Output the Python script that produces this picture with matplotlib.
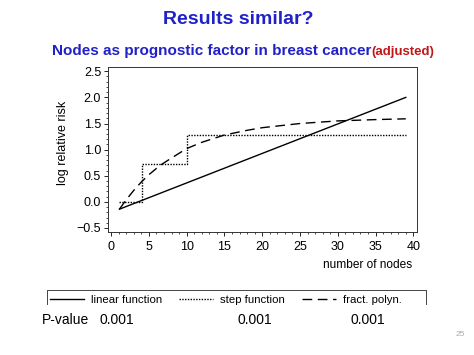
import numpy as np
import matplotlib.pyplot as plt
from matplotlib.lines import Line2D

plt.rcParams['font.family'] = ['Liberation Sans', 'DejaVu Sans']

# values
lin_x = [1.1, 39]
lin_y = [-0.14, 2.0]
step_x = [1.1, 4.1, 4.1, 10.1, 10.1, 39]
step_y = [0.0, 0.0, 0.72, 0.72, 1.28, 1.28]
fp_x = [1.1, 2, 3, 4, 5, 6.5, 8, 10, 12, 15, 18, 20, 25, 30, 35, 39]
fp_y = [-0.14, 0.04, 0.22, 0.38, 0.52, 0.70, 0.84, 1.02, 1.14, 1.28, 1.37, 1.42, 1.50, 1.55, 1.575, 1.59]
labels = ['linear function', 'step function', 'fract. polyn.']
pvalues = ['0.001', '0.001', '0.001']

W, H = 474, 355
fig = plt.figure(figsize=(4.74, 3.55), dpi=100)
ax = fig.add_axes([0.228, 0.346, 0.652, 0.465])

l1, = ax.plot(lin_x, lin_y, color='black', lw=1.0)
l2, = ax.plot(step_x, step_y, color='black', lw=1.0, ls=(0, (1, 1)))
l3, = ax.plot(fp_x, fp_y, color='black', lw=1.0, ls=(0, (7, 4)))

ax.set_xlim(-0.4, 40.5)
ax.set_ylim(-0.58, 2.58)
ax.set_xticks(np.arange(0, 41, 5))
ax.set_xticks(np.arange(0, 41, 1), minor=True)
ax.set_yticks([-0.5, 0.0, 0.5, 1.0, 1.5, 2.0, 2.5])
ax.set_yticklabels(['\u22120.5', '0.0', '0.5', '1.0', '1.5', '2.0', '2.5'])
ax.set_yticks(np.arange(-0.5, 2.51, 0.1), minor=True)
ax.tick_params(labelsize=9, length=3, width=0.6)
ax.tick_params(axis='y', pad=2)
ax.tick_params(which='minor', length=1.5, width=0.5)
for s in ax.spines.values():
    s.set_linewidth(0.7)
    s.set_color('#333333')

ax.set_ylabel('log relative risk', fontsize=9)
ax.yaxis.set_label_coords(-0.125, 0.54)
ax.set_xlabel('number of nodes', fontsize=8.6)
ax.xaxis.set_label_coords((412 - 108) / (417 - 108), -(265 - 232) / (232 - 67))
ax.xaxis.label.set_ha('right')
ax.xaxis.label.set_va('center')

# titles
fig.text(238 / W, 1 - 20 / H, 'Results similar?', ha='center', va='center',
         fontsize=14, fontweight='bold', color='#2121c8')
t1 = fig.text(52 / W, 1 - 55 / H, 'Nodes as prognostic factor in breast cancer',
              ha='left', va='baseline', fontsize=11, fontweight='bold', color='#2121c8')
ax.annotate('(adjusted)', xy=(1, 0), xycoords=t1, ha='left', va='bottom',
            fontsize=9.5, fontweight='bold', color='#c01818', annotation_clip=False)

# legend
leg = fig.legend([l1, l2, l3], labels, ncol=3, loc='center left',
                 bbox_to_anchor=(50 / W, 1 - 300 / H), fontsize=8.2,
                 frameon=False, handlelength=3.0, handletextpad=0.6,
                 columnspacing=1.5, borderpad=0.0, borderaxespad=0.0)
# open-bottomed bracket around the legend
fig.add_artist(Line2D([47 / W, 47 / W, 426 / W, 426 / W],
                      [1 - 304 / H, 1 - 290 / H, 1 - 290 / H, 1 - 304 / H],
                      transform=fig.transFigure, color='#444444', lw=0.7))

fig.text(42 / W, 1 - 320 / H, 'P-value', fontsize=10, va='center', ha='left')
for xp, pv in zip([117, 255, 368], pvalues):
    fig.text(xp / W, 1 - 320 / H, pv, fontsize=10, va='center', ha='center')

fig.text(460 / W, 1 - 335 / H, '25', fontsize=6, color='#aaaaaa', ha='center', va='center')

fig.savefig('out.png', dpi=100)
